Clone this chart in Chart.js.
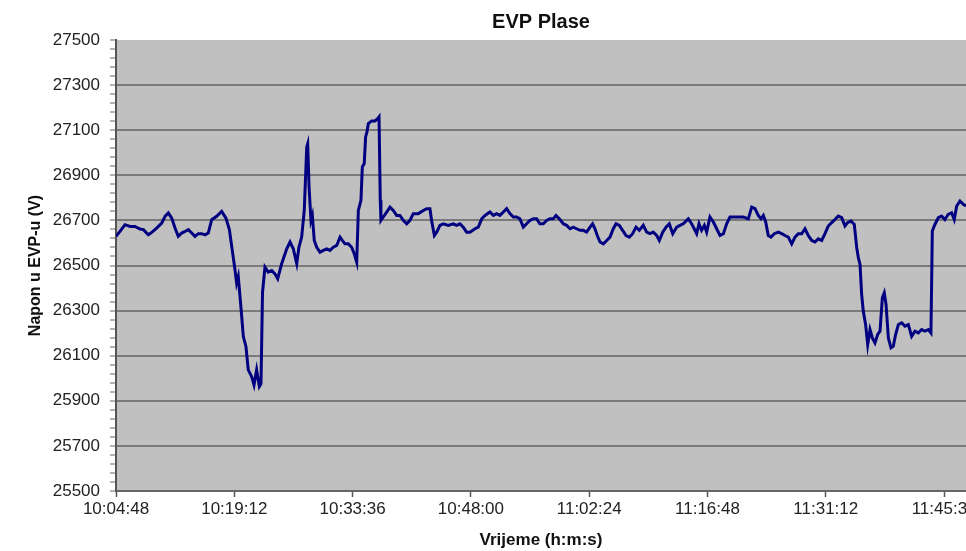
<!DOCTYPE html>
<html>
<head>
<meta charset="utf-8">
<script src="https://cdn.jsdelivr.net/npm/chart.js@4.4.0/dist/chart.umd.min.js"></script>
<style>
  html, body { margin: 0; padding: 0; background: #fff; overflow: hidden; }
  #wrap { width: 1010px; height: 551px; }
</style>
</head>
<body>
<div id="wrap"><canvas id="evpChart" width="1010" height="551"></canvas></div>
<script>
// start of the record, x values are seconds after this
const startTime = "10:04:48";

const elapsedSec = [
  0, 29, 66, 102, 139, 175, 200, 236, 261, 297, 334, 358, 382, 407, 431, 455, 480, 504, 528, 553,
  577, 601, 626, 650, 674, 699, 735, 772, 803, 828, 852, 869, 881, 893, 910, 930, 949, 966, 991, 1008,
  1027, 1047,
  1059, 1070, 1088, 1112, 1137, 1161, 1181, 1210, 1247, 1271, 1295, 1320, 1336, 1356, 1375, 1393, 1400, 1410,
  1424, 1434, 1448, 1466, 1490, 1514, 1539, 1563, 1587, 1612, 1636, 1653, 1672, 1697, 1721, 1740, 1758, 1770,
  1789, 1799, 1813, 1823, 1833, 1843, 1867, 1891, 1911, 1921, 1930, 1935, 1952, 1977, 2001, 2025, 2050,
  2074, 2098, 2123, 2147, 2171, 2208, 2244, 2269, 2293, 2305, 2325, 2342, 2366, 2390, 2427, 2463, 2488, 2512,
  2536, 2561, 2585, 2622, 2646, 2671, 2695, 2731, 2756, 2780, 2804, 2829, 2853, 2877, 2902, 2926, 2950, 2975,
  2999, 3023, 3048, 3072, 3096,
  3121, 3145, 3169, 3194, 3213, 3238, 3267, 3291, 3316, 3340, 3364, 3389, 3413, 3437, 3462, 3481, 3498, 3515,
  3535, 3559, 3584, 3608, 3632, 3652, 3676, 3700, 3725, 3749, 3773, 3798, 3822, 3851, 3876, 3900, 3924, 3949,
  3968, 3993, 4017, 4041, 4066, 4095, 4119, 4143, 4168,
  4180, 4204, 4223, 4241, 4258, 4277, 4297, 4314, 4338, 4363, 4387, 4411, 4436, 4460, 4484, 4509, 4545, 4582,
  4618, 4643, 4667, 4691, 4711, 4728, 4745, 4764, 4784, 4808, 4837, 4862, 4886, 4910, 4935, 4959, 4983, 5008,
  5032, 5056, 5081, 5105, 5129, 5154, 5178,
  5202, 5227, 5251, 5275, 5300, 5324, 5343, 5368, 5392, 5410, 5422, 5434, 5446, 5458, 5475, 5490, 5507, 5524,
  5543, 5563, 5580, 5597, 5611, 5624, 5641, 5660, 5677, 5694, 5714, 5738, 5762, 5787, 5811, 5835, 5860, 5884,
  5908, 5933, 5952, 5962, 5981, 6006, 6030, 6054, 6078, 6103, 6122, 6140, 6164, 6188, 6208
];

const voltage = [
  26629, 26651, 26681, 26673, 26673, 26662, 26659, 26636, 26647, 26666, 26688, 26718, 26733, 26710, 26666, 26629, 26644, 26651, 26659, 26644,
  26629, 26641, 26641, 26636, 26644, 26703, 26718, 26740, 26710, 26659, 26555, 26481, 26422, 26451, 26333, 26185, 26141, 26037, 26007, 25970,
  26037, 25963,
  25975, 26380, 26493, 26471, 26478, 26463, 26441, 26508, 26574, 26604, 26574, 26508, 26581, 26626, 26744, 27026, 27040, 26848,
  26700, 26722, 26611, 26581, 26559, 26567, 26574, 26567, 26581, 26589, 26626, 26611, 26596, 26596, 26581, 26552, 26515, 26744,
  26789, 26937, 26952, 27070, 27092, 27129, 27141, 27141, 27151, 27159, 26789, 26700, 26715, 26737, 26759, 26744, 26722,
  26722, 26700, 26685, 26700, 26730, 26730, 26744, 26752, 26752, 26700, 26633, 26648, 26678, 26685, 26678, 26685, 26678, 26685,
  26670, 26648, 26648, 26663, 26670, 26707, 26722, 26737, 26722, 26730, 26722, 26737, 26752, 26730, 26715, 26715, 26707, 26670,
  26685, 26700, 26707, 26707, 26685,
  26685, 26700, 26707, 26707, 26722, 26707, 26685, 26678, 26663, 26670, 26663, 26656, 26656, 26648, 26670, 26685, 26663, 26633,
  26604, 26596, 26611, 26626, 26663, 26685, 26678, 26656, 26633, 26626, 26641, 26670, 26656, 26678, 26648, 26641, 26648, 26633,
  26611, 26648, 26670, 26685, 26641, 26670, 26678, 26685, 26700,
  26707, 26685, 26663, 26641, 26685, 26656, 26678, 26648, 26715, 26693, 26663, 26633, 26641, 26685, 26715, 26715, 26715, 26715,
  26707, 26759, 26752, 26722, 26707, 26722, 26693, 26633, 26626, 26641, 26648, 26641, 26633, 26626, 26596, 26626, 26641, 26641,
  26663, 26633, 26611, 26604, 26618, 26611, 26641,
  26675, 26690, 26704, 26719, 26712, 26675, 26690, 26697, 26682, 26579, 26534, 26505, 26371, 26297, 26238, 26149, 26216, 26179,
  26157, 26194, 26209, 26357, 26379, 26327, 26179, 26135, 26142, 26194, 26238, 26246, 26231, 26238, 26186, 26209, 26201, 26216,
  26209, 26216, 26201, 26653, 26682, 26712, 26719, 26704, 26727, 26734, 26704, 26764, 26786, 26771, 26764
];

// axis ranges
const yMin = 25500, yMax = 27500, yMajor = 200, yMinor = 40;
const xStep = 864;      // 00:14:24 between time labels
const xEnd = 6208;      // right edge of the visible plot

const FONT = "'Liberation Sans', Arial, sans-serif";
Chart.defaults.font.family = FONT;

const toSec = (s) => {
  const [h, m, sec] = s.split(":").map(Number);
  return h * 3600 + m * 60 + sec;
};
const pad = (n) => String(n).padStart(2, "0");
const fmtTime = (offset) => {
  const t = toSec(startTime) + Math.round(offset);
  return pad(Math.floor(t / 3600)) + ":" + pad(Math.floor((t % 3600) / 60)) + ":" + pad(t % 60);
};
const isMajor = (v) => (v - yMin) % yMajor === 0;

const points = elapsedSec.map((t, i) => ({ x: t, y: voltage[i] }));

// grey plot area like the old excel chart
const plotBg = {
  id: "plotBg",
  beforeDraw(chart) {
    const { ctx, chartArea } = chart;
    ctx.save();
    ctx.fillStyle = "#c0c0c0";
    ctx.fillRect(chartArea.left, chartArea.top, chartArea.width, chartArea.height);
    ctx.restore();
  },
};

const ctx = document.getElementById("evpChart").getContext("2d");

const evpChart = new Chart(ctx, {
  type: "line",
  data: {
    datasets: [
      {
        label: "EVP Plase",
        data: points,
        borderColor: "#000080",
        borderWidth: 3,
        pointRadius: 0,
        tension: 0,
        fill: false,
      },
    ],
  },
  options: {
    responsive: false,
    animation: false,
    layout: { padding: { right: 44 } },
    plugins: {
      legend: { display: false },
      tooltip: { enabled: false },
      title: {
        display: true,
        text: "EVP Plase",
        fullSize: false,
        color: "#111",
        font: { size: 20, weight: "bold" },
        padding: { top: 10, bottom: 6 },
      },
    },
    scales: {
      x: {
        type: "linear",
        min: 0,
        max: xEnd,
        afterBuildTicks: (scale) => {
          const ticks = [];
          for (let v = 0; v <= xEnd; v += xStep) ticks.push({ value: v });
          scale.ticks = ticks;
        },
        afterFit: (scale) => {
          scale.height = 60;
        },
        border: { color: "#666", width: 2 },
        grid: {
          drawOnChartArea: false,
          tickLength: 6,
          tickColor: "#555",
          tickWidth: 1.5,
        },
        ticks: {
          autoSkip: false,
          maxRotation: 0,
          padding: 2,
          color: "#222",
          font: { size: 17 },
          callback: (v) => fmtTime(v),
        },
        title: {
          display: true,
          text: "Vrijeme (h:m:s)",
          color: "#111",
          font: { size: 17, weight: "bold" },
          padding: { top: 2, bottom: 0 },
        },
      },
      y: {
        min: yMin,
        max: yMax,
        afterFit: (scale) => {
          scale.width = 116;
        },
        border: { color: "#555", width: 2 },
        grid: {
          color: (c) =>
            c.tick && isMajor(c.tick.value) && c.tick.value !== yMax ? "#7a7a7a" : "rgba(0,0,0,0)",
          lineWidth: 2,
          tickLength: 6,
          tickColor: "#666",
          tickWidth: 1,
        },
        ticks: {
          stepSize: yMinor,
          autoSkip: false,
          padding: 10,
          color: "#222",
          font: { size: 17 },
          callback: (v) => (isMajor(v) ? v : ""),
        },
        title: {
          display: true,
          text: "Napon u EVP-u (V)",
          color: "#111",
          font: { size: 16, weight: "bold" },
          padding: { top: 26, bottom: 0 },
        },
      },
    },
  },
  plugins: [plotBg],
});
</script>
</body>
</html>
